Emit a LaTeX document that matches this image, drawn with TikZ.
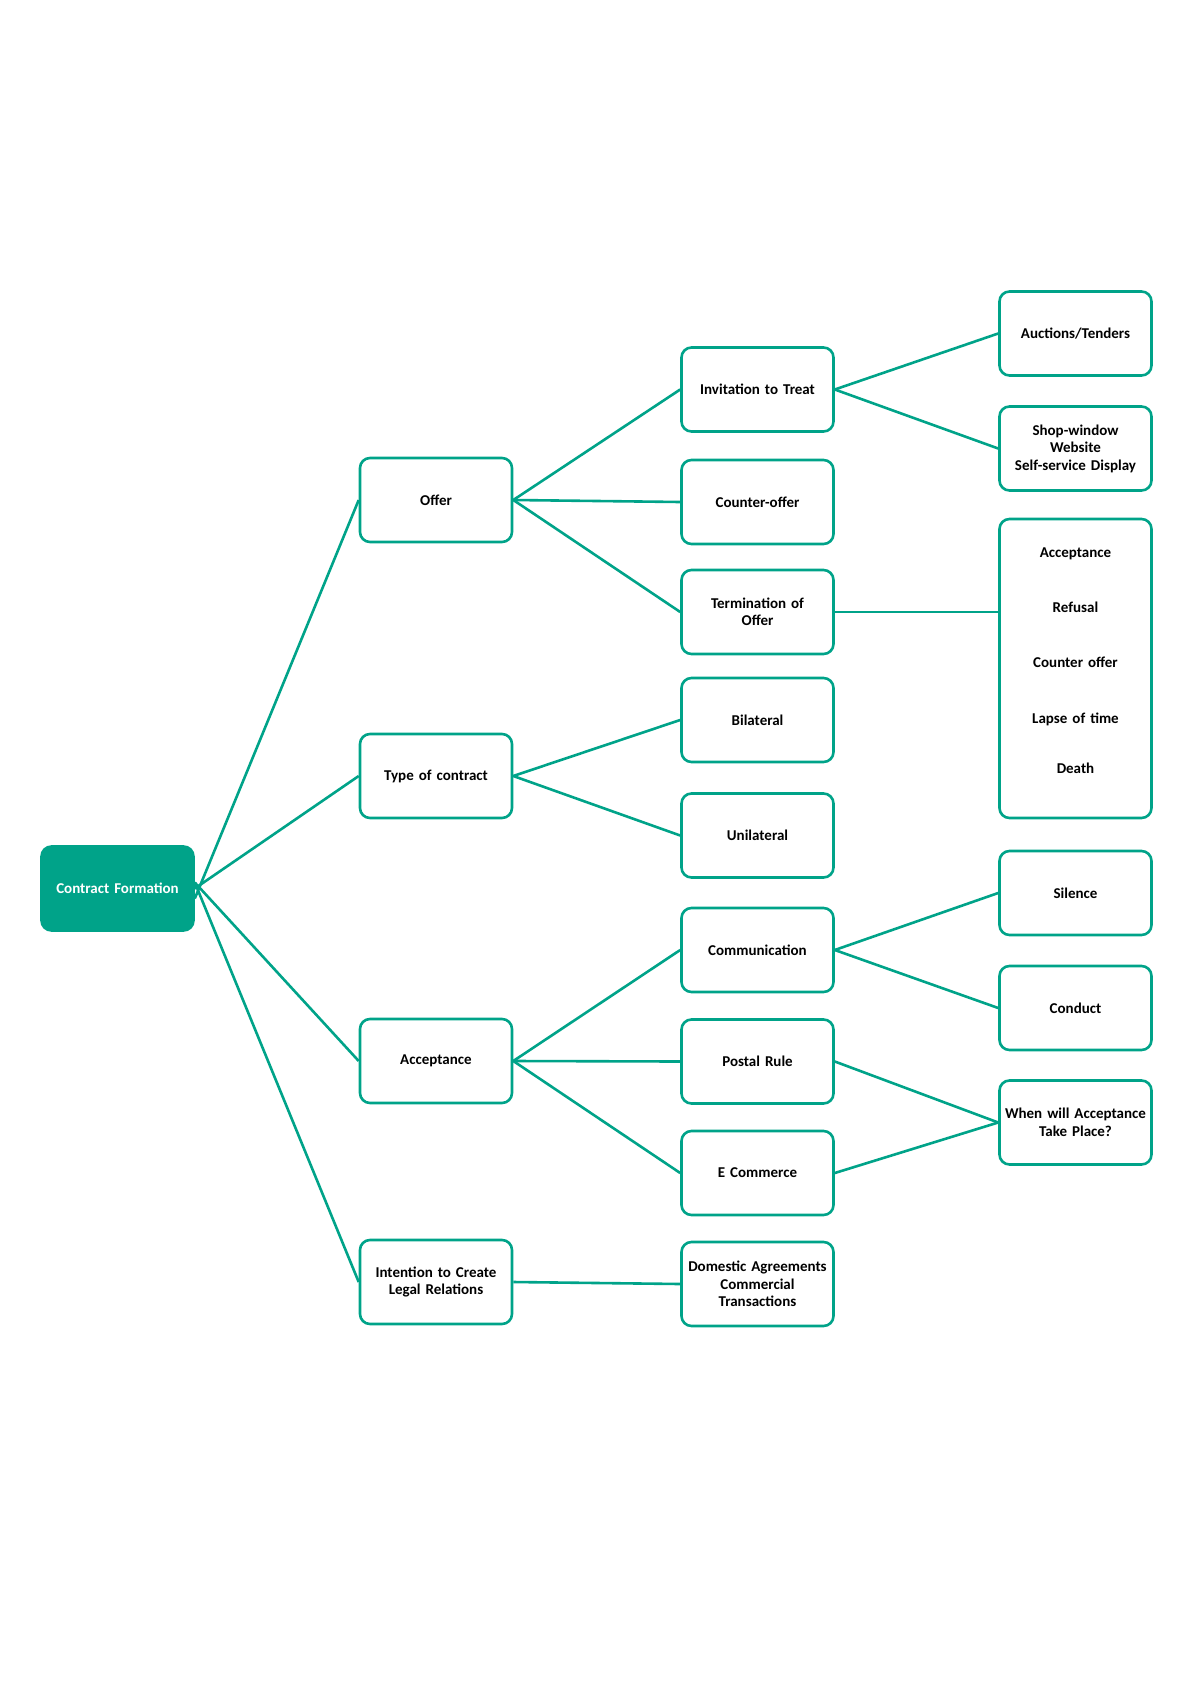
\documentclass[tikz,border=0pt]{standalone}
\usepackage{fontspec}
\setmainfont{Carlito}[WordSpace=0.7,BoldFeatures={WordSpace=0.7}]
\definecolor{teal1}{RGB}{0,163,137}
\begin{document}
\begin{tikzpicture}[x=1pt,y=-1pt,
  box/.style={draw=teal1,line width=2.6pt,rounded corners=10pt,minimum width=150pt,minimum height=84pt,
    align=center,font=\fontsize{15}{17.5}\selectfont\bfseries,inner sep=2pt,text width=148pt},
  root/.style={box,fill=teal1,text=white},
  link/.style={draw=teal1,line width=2.6pt}]
\useasboundingbox (0,0) rectangle (1200,1696);
\node[root] (cf) at (117.5,888.5) {Contract Formation};
\node[box] (offer) at (436,500) {Offer};
\node[box] (type) at (436,776) {Type of contract};
\node[box] (acc) at (436,1061) {Acceptance};
\node[box] (int) at (436,1282) {Intention to Create\\Legal Relations};
\node[box] (inv) at (757.5,389.5) {Invitation to Treat};
\node[box] (co) at (757.5,502) {Counter-offer};
\node[box] (term) at (757.5,612) {Termination of\\Offer};
\node[box] (bil) at (757.5,720) {Bilateral};
\node[box] (uni) at (757.5,835.5) {Unilateral};
\node[box] (com) at (757.5,950) {Communication};
\node[box] (post) at (757.5,1061.5) {Postal Rule};
\node[box] (ecom) at (757.5,1173) {E Commerce};
\node[box] (dom) at (757.5,1284) {Domestic Agreements\\Commercial\\Transactions};
\node[box] (auc) at (1075.5,333.5) {Auctions/Tenders};
\node[box] (shop) at (1075.5,448.5) {Shop-window\\Website\\Self-service Display};
\node[box,minimum height=299pt] (ways) at (1075.5,668.5) {Acceptance\\[37pt]Refusal\\[38pt]Counter offer\\[38pt]Lapse of time\\[33pt]Death\\[-2pt]\mbox{}};
\node[box] (sil) at (1075.5,893) {Silence};
\node[box] (cond) at (1075.5,1008) {Conduct};
\node[box] (when) at (1075.5,1122.5) {When will Acceptance\\Take Place?};
\draw[link] ([yshift=-10pt]cf.east) -- (offer.west);
\draw[link] (cf.east) -- (type.west);
\draw[link] ([yshift=6pt]cf.east) -- (acc.west);
\draw[link] ([yshift=6pt]cf.east) -- (int.west);
\draw[link] (offer.east) -- (inv.west);
\draw[link] (offer.east) -- (co.west);
\draw[link] (offer.east) -- (term.west);
\draw[link] (term.east) -- (term.east -| ways.west);
\draw[link] (inv.east) -- (auc.west);
\draw[link] (inv.east) -- (shop.west);
\draw[link] (type.east) -- (bil.west);
\draw[link] (type.east) -- (uni.west);
\draw[link] (acc.east) -- (com.west);
\draw[link] (acc.east) -- (post.west);
\draw[link] (acc.east) -- (ecom.west);
\draw[link] (com.east) -- (sil.west);
\draw[link] (com.east) -- (cond.west);
\draw[link] (post.east) -- (when.west);
\draw[link] (ecom.east) -- (when.west);
\draw[link] (int.east) -- (dom.west);
\end{tikzpicture}
\end{document}
